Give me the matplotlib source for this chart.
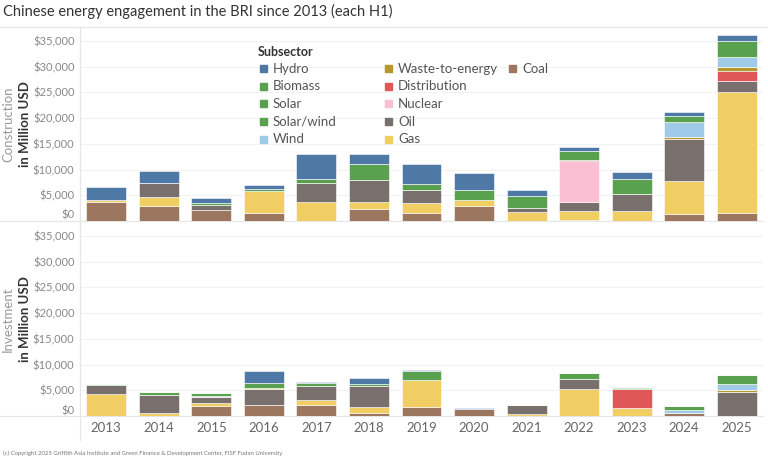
import numpy as np
import matplotlib
matplotlib.use('Agg')
import matplotlib.pyplot as plt
from matplotlib.patches import Rectangle

plt.rcParams['font.family'] = ['Lato', 'DejaVu Sans']

anni = ['2013', '2014', '2015', '2016', '2017', '2018', '2019',
        '2020', '2021', '2022', '2023', '2024', '2025']

# Construction, million USD (H1 of each year)
con_coal = [3750, 3000, 2100, 1600, 0, 2300, 1500, 2900, 0, 200, 0, 1300, 1600]
con_gas = [300, 1600, 0, 4200, 3750, 1400, 2000, 1200, 1750, 1700, 2000, 6500, 23400]
con_oil = [0, 2700, 1000, 0, 3600, 4300, 2500, 0, 850, 1700, 3300, 8200, 2300]
con_nuclear = [0, 0, 0, 0, 0, 0, 0, 0, 0, 8000, 0, 0, 0]
con_distribution = [0, 0, 0, 0, 0, 0, 0, 0, 0, 200, 0, 0, 1900]
con_waste = [0, 0, 0, 0, 0, 0, 0, 0, 0, 0, 0, 250, 650]
con_wind = [0, 0, 0, 0, 0, 0, 0, 0, 0, 0, 0, 3000, 2100]
con_solarwind = [0, 0, 0, 0, 0, 0, 0, 0, 0, 0, 0, 0, 0]
con_solar = [0, 150, 400, 500, 800, 3100, 1200, 1900, 2300, 1800, 2800, 1100, 3000]
con_biomass = [0, 0, 0, 0, 0, 0, 0, 0, 0, 0, 0, 0, 0]
con_hydro = [2600, 2200, 900, 600, 4900, 1900, 3900, 3400, 1150, 700, 1350, 850, 1150]

# Investment, million USD
inv_coal = [0, 0, 1950, 2100, 2100, 500, 1800, 1300, 0, 0, 0, 500, 0]
inv_gas = [4300, 650, 650, 0, 1100, 1200, 5100, 0, 300, 5300, 1500, 0, 0]
inv_oil = [1700, 3400, 1000, 3200, 2700, 4200, 0, 0, 1800, 1950, 0, 0, 4700]
inv_nuclear = [0, 0, 200, 0, 0, 0, 0, 0, 0, 0, 0, 0, 0]
inv_distribution = [0, 0, 0, 0, 0, 0, 0, 0, 0, 0, 3800, 0, 0]
inv_waste = [0, 0, 0, 200, 0, 0, 0, 0, 0, 0, 0, 0, 300]
inv_wind = [0, 0, 0, 0, 0, 0, 0, 0, 0, 0, 0, 600, 1200]
inv_solarwind = [0, 100, 0, 0, 0, 0, 0, 0, 0, 0, 100, 0, 0]
inv_solar = [300, 500, 650, 850, 500, 300, 1750, 0, 0, 1200, 300, 850, 1700]
inv_biomass = [0, 0, 0, 0, 0, 0, 0, 0, 0, 0, 0, 0, 0]
inv_hydro = [0, 0, 0, 2400, 200, 1200, 250, 300, 0, 0, 0, 0, 0]

sottosettori = ['Coal', 'Gas', 'Oil', 'Nuclear', 'Distribution', 'Waste-to-energy',
                'Wind', 'Solar/wind', 'Solar', 'Biomass', 'Hydro']
colori = {
    'Hydro': '#4e79a7', 'Biomass': '#59a14f', 'Solar': '#59a14f',
    'Solar/wind': '#59a14f', 'Wind': '#a0cbe8', 'Waste-to-energy': '#b6992d',
    'Distribution': '#e15759', 'Nuclear': '#fabfd2', 'Oil': '#79706e',
    'Gas': '#f1ce63', 'Coal': '#9d7660',
}

costruzione = [con_coal, con_gas, con_oil, con_nuclear, con_distribution, con_waste,
               con_wind, con_solarwind, con_solar, con_biomass, con_hydro]
investimento = [inv_coal, inv_gas, inv_oil, inv_nuclear, inv_distribution, inv_waste,
                inv_wind, inv_solarwind, inv_solar, inv_biomass, inv_hydro]

fig = plt.figure(figsize=(7.68, 4.61), dpi=100)
ax1 = fig.add_axes([80 / 768, 1 - 221 / 461, 683 / 768, 194 / 461])
ax2 = fig.add_axes([80 / 768, 1 - 416 / 461, 683 / 768, 194 / 461])

x = np.arange(len(anni))
grigio = '#e6e6e6'


def disegna_pannello(ax, serie):
    base = np.zeros(len(anni))
    for nome, valori in zip(sottosettori, serie):
        v = np.array(valori, dtype=float)
        ax.bar(x, v, bottom=base, width=0.76, color=colori[nome],
               edgecolor='white', linewidth=0.4, zorder=3)
        base += v
    ax.set_xlim(-0.5, len(anni) - 0.5)
    ax.set_ylim(0, 37700)
    ticks = np.arange(0, 35001, 5000)
    ax.set_yticks(ticks)
    ax.set_yticklabels(['${:,.0f}'.format(t) for t in ticks], color='#888888', fontsize=8)
    ax.get_yticklabels()[0].set_va('bottom')
    ax.tick_params(axis='y', length=0, pad=4)
    ax.grid(axis='y', color='#f2f2f2', linewidth=0.8, zorder=0)
    for s in ['top', 'right']:
        ax.spines[s].set_visible(False)
    ax.spines['left'].set_color(grigio)
    ax.spines['bottom'].set_color(grigio)
    ax.set_facecolor('white')


disegna_pannello(ax1, costruzione)
disegna_pannello(ax2, investimento)

ax1.set_xticks([])
ax2.set_xticks(x)
ax2.set_xticklabels(anni, color='#666666', fontsize=9.5)
ax2.tick_params(axis='x', length=0, pad=4)

# Linee di bordo stile Tableau
fig.add_artist(plt.Line2D([0, 1], [1 - 27 / 461, 1 - 27 / 461], color=grigio, lw=0.8))
fig.add_artist(plt.Line2D([0, 80 / 768], [1 - 221 / 461, 1 - 221 / 461], color=grigio, lw=0.8))
fig.add_artist(plt.Line2D([0, 80 / 768], [1 - 416 / 461, 1 - 416 / 461], color=grigio, lw=0.8))
fig.add_artist(plt.Line2D([80 / 768, 80 / 768], [1 - 440 / 461, 1 - 27 / 461], color=grigio, lw=0.8))

# Titolo
fig.text(3 / 768, 1 - 11 / 461, 'Chinese energy engagement in the BRI since 2013 (each H1)',
         fontsize=10.5, color='#333333', va='center', ha='left')

# Etichette asse y
for yc, nome in [(124, 'Construction'), (319, 'Investment')]:
    fig.text(8 / 768, 1 - yc / 461, nome, rotation=90, fontsize=9.5, color='#999999',
             ha='center', va='center')
    fig.text(25 / 768, 1 - yc / 461, 'in Million USD', rotation=90, fontsize=9.5,
             color='#333333', fontweight='bold', ha='center', va='center')

# Legenda
fig.text(258 / 768, 1 - 52 / 461, 'Subsector', fontsize=9, color='#333333',
         fontweight='bold', ha='left', va='center')
colonne = [['Hydro', 'Biomass', 'Solar', 'Solar/wind', 'Wind'],
           ['Waste-to-energy', 'Distribution', 'Nuclear', 'Oil', 'Gas'],
           ['Coal']]
xcol = [263, 388, 512]
for xc, voci in zip(xcol, colonne):
    for i, nome in enumerate(voci):
        yc = 69 + i * 17.5
        fig.add_artist(Rectangle((xc / 768 - 3.5 / 768, 1 - (yc + 3.5) / 461), 7 / 768, 7 / 461,
                                 transform=fig.transFigure, color=colori[nome]))
        fig.text((xc + 10) / 768, 1 - yc / 461, nome, fontsize=9.5, color='#555555',
                 ha='left', va='center')

# Copyright
fig.text(3 / 768, 1 - 453 / 461,
         '(c) Copyright 2025 Griffith Asia Institute and Green Finance & Development Center, FISF Fudan University',
         fontsize=4.3, color='#777777', ha='left', va='center')

fig.savefig('out.png', dpi=100)
